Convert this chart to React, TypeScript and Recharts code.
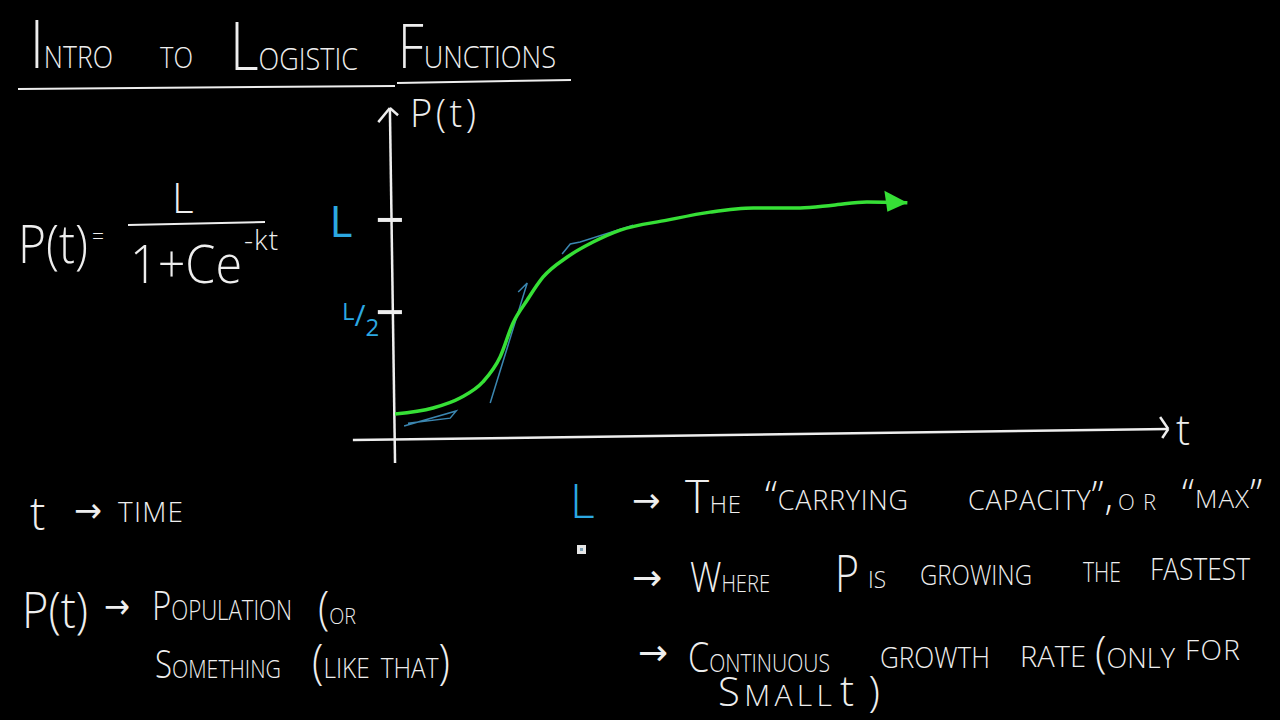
import { ComposedChart, Line, XAxis, YAxis, ReferenceLine } from 'recharts'

// green logistic curve (t in ~43px units, P with L = 100)
const curveT = [0, 0.88, 1.51, 2.04, 2.44, 2.74, 3.07, 3.44, 4.0, 4.6, 5.23, 6.32, 7.32, 8.32, 9.41, 10.17, 10.96, 11.9]
const curveP = [10.5, 13.3, 17.9, 25.3, 36.8, 52.5, 63.1, 73.7, 82.9, 89.8, 95.3, 99.9, 103.6, 105.5, 105.5, 106.8, 108.3, 107.9]

// faint blue tangent scribbles
const tan1T = [0.21, 1.42, 1.28, 0.3]
const tan1P = [5.0, 11.9, 8.6, 6.2]
const tan2T = [2.21, 3.07, 2.86]
const tan2P = [15.6, 70.9, 66.8]
const tan3T = [3.88, 4.07, 4.3, 5.53]
const tan3P = [84.3, 88.9, 89.8, 97.6]

// y ticks: L/2 and L
const yTicks = [57.5, 100]
const yTickLabels = ['L/2', 'L']

const INK = '#eeeeee'
const GREEN = '#36e036'
const BLUE = '#2ca8e2'
const FAINT = '#3b86b0'
const FONT = "'Open Sans', 'DejaVu Sans', sans-serif"

const toRows = (ts: number[], ps: number[]) => ts.map((t, i) => ({ t, p: ps[i] }))
const curve = toRows(curveT, curveP)
const tan1 = toRows(tan1T, tan1P)
const tan2 = toRows(tan2T, tan2P)
const tan3 = toRows(tan3T, tan3P)

const ctx = typeof document !== 'undefined' ? document.createElement('canvas').getContext('2d') : null

// handwritten "small caps": capitals big, lowercase as small capitals
function Hand({ x, y, w, text, big = 44, small = 27, fill = INK, raw = false, weight = 300 }: any) {
  const runs: { s: string; size: number }[] = []
  for (const ch of text) {
    const isSmall = !raw && ch >= 'a' && ch <= 'z'
    const size = isSmall ? small : big
    const c = isSmall ? ch.toUpperCase() : ch
    const last = runs[runs.length - 1]
    if (last && last.size === size) last.s += c
    else runs.push({ s: c, size })
  }
  let natural = 0
  if (ctx) {
    for (const r of runs) {
      ctx.font = `${weight} ${r.size}px ${FONT}`
      natural += ctx.measureText(r.s).width
    }
  }
  const adjust = natural > w ? 'spacingAndGlyphs' : 'spacing'
  return (
    <text x={x} y={y} textLength={w} lengthAdjust={adjust} fill={fill}
      fontFamily={FONT} fontWeight={weight}>
      {runs.map((r, i) => <tspan key={i} fontSize={r.size}>{r.s}</tspan>)}
    </text>
  )
}

function YTick({ x, y, payload }: any) {
  const label = yTickLabels[yTicks.indexOf(payload.value)]
  if (label === 'L') {
    return <text x={x - 11} y={y + 17} textAnchor="middle" fill={BLUE} fontSize={44} fontFamily={FONT} fontWeight={400}>L</text>
  }
  return (
    <text x={x - 10} y={y + 8} fill={BLUE} fontFamily={FONT} fontWeight={400}>
      <tspan fontSize={24}>L</tspan>
      <tspan fontSize={30} dy={6}>/</tspan>
      <tspan fontSize={24} dy={10}>2</tspan>
    </text>
  )
}

function ArrowDot(props: any) {
  const { cx, cy, index } = props
  if (index !== curve.length - 1) return <g key={`d${index}`} />
  return (
    <polygon key={`d${index}`} fill={GREEN}
      points={`${cx},${cy} ${cx - 23},${cy - 12} ${cx - 20},${cy + 9}`} />
  )
}

export default function App() {
  return (
    <div style={{ position: 'fixed', left: 0, top: 0, width: 1280, height: 720, background: '#000', overflow: 'hidden' }}>
      <ComposedChart width={1280} height={720} data={curve}
        margin={{ top: 105, left: 312, right: 110, bottom: 255 }}>
        <XAxis dataKey="t" type="number" domain={[-1, 18]} hide allowDataOverflow />
        <YAxis type="number" domain={[-13, 153]} width={40} ticks={yTicks}
          axisLine={false} tickLine={false} tickSize={0} tickMargin={0}
          tick={<YTick />} allowDataOverflow />

        {/* axes */}
        <ReferenceLine segment={[{ x: -0.98, y: -1.5 }, { x: 17.96, y: 3.6 }]} stroke={INK} strokeWidth={2.5} ifOverflow="visible" />
        <ReferenceLine segment={[{ x: 17.96, y: 3.6 }, { x: 17.77, y: 9.1 }]} stroke={INK} strokeWidth={2.5} ifOverflow="visible" />
        <ReferenceLine segment={[{ x: 17.96, y: 3.6 }, { x: 17.82, y: -0.55 }]} stroke={INK} strokeWidth={2.5} ifOverflow="visible" />
        <ReferenceLine segment={[{ x: 0, y: -12.1 }, { x: -0.12, y: 151.6 }]} stroke={INK} strokeWidth={2.5} ifOverflow="visible" />
        <ReferenceLine segment={[{ x: -0.12, y: 151.6 }, { x: -0.39, y: 145.1 }]} stroke={INK} strokeWidth={2.5} ifOverflow="visible" />
        <ReferenceLine segment={[{ x: -0.12, y: 151.6 }, { x: 0.07, y: 148.3 }]} stroke={INK} strokeWidth={2.5} ifOverflow="visible" />

        {/* tick marks at L/2 and L */}
        {yTicks.map(v => (
          <ReferenceLine key={v} segment={[{ x: -0.4, y: v }, { x: 0.16, y: v }]} stroke={INK} strokeWidth={4} ifOverflow="visible" />
        ))}

        <Line data={tan1} dataKey="p" type="linear" stroke={FAINT} strokeWidth={1.5} dot={false} isAnimationActive={false} />
        <Line data={tan2} dataKey="p" type="linear" stroke={FAINT} strokeWidth={1.5} dot={false} isAnimationActive={false} />
        <Line data={tan3} dataKey="p" type="linear" stroke={FAINT} strokeWidth={1.5} dot={false} isAnimationActive={false} />
        <Line dataKey="p" type="monotone" stroke={GREEN} strokeWidth={3.5} dot={ArrowDot} activeDot={false} isAnimationActive={false} />
      </ComposedChart>

      <svg width={1280} height={720} style={{ position: 'absolute', left: 0, top: 0, pointerEvents: 'none' }}>
        {/* title */}
        <Hand x={30} y={68} w={83} text="Intro" big={66} small={32} />
        <Hand x={160} y={68} w={33} text="to" small={30} />
        <Hand x={230} y={70} w={128} text="Logistic" big={66} small={32} />
        <Hand x={398} y={68} w={158} text="Functions" big={60} small={32} />
        <line x1={18} y1={89} x2={395} y2={86} stroke={INK} strokeWidth={2} />
        <line x1={397} y1={83} x2={571} y2={80} stroke={INK} strokeWidth={2} />

        {/* formula */}
        <Hand x={18} y={263} w={70} text="P(t)" big={54} raw />
        <Hand x={92} y={245} w={12} text="=" big={24} raw />
        <Hand x={172} y={213} w={28} text="L" big={42} raw />
        <line x1={128} y1={225} x2={265} y2={222} stroke={INK} strokeWidth={2} />
        <Hand x={130} y={283} w={112} text="1+Ce" big={54} raw />
        <Hand x={244} y={250} w={34} text="-kt" big={28} raw />

        {/* axis names */}
        <Hand x={410} y={127} w={66} text="P(t)" big={38} raw />
        <Hand x={1176} y={445} w={24} text="t" big={42} raw />

        {/* left notes */}
        <Hand x={30} y={530} w={22} text="t" big={46} raw />
        <Hand x={74} y={522} w={28} text="→" big={34} weight={400} raw />
        <Hand x={118} y={522} w={65} text="time" small={28} />
        <Hand x={22} y={628} w={66} text="P(t)" big={50} raw />
        <Hand x={104} y={618} w={26} text="→" big={34} weight={400} raw />
        <Hand x={152} y={620} w={140} text="Population" big={40} small={27} />
        <Hand x={318} y={624} w={38} text="(or" big={46} small={22} />
        <Hand x={155} y={678} w={126} text="Something" big={38} small={26} />
        <Hand x={312} y={678} w={138} text="(like that)" big={48} small={28} />

        {/* right notes */}
        <Hand x={570} y={518} w={30} text="L" big={48} fill={BLUE} raw />
        <Hand x={632} y={512} w={30} text="→" big={34} weight={400} raw />
        <Hand x={685} y={513} w={56} text="The" big={46} small={24} />
        <Hand x={765} y={510} w={143} text="“carrying" big={40} small={27} />
        <Hand x={968} y={510} w={145} text="capacity”," big={40} small={27} />
        <Hand x={1118} y={510} w={38} text="or" small={22} />
        <Hand x={1182} y={508} w={80} text="“max”" big={40} small={26} />
        <rect x={577} y={545} width={9} height={9} fill="#e6e6e6" />
        <rect x={580} y={548} width={3} height={3} fill="#7a9fb5" />
        <Hand x={632} y={590} w={33} text="→" big={36} weight={400} raw />
        <Hand x={690} y={592} w={80} text="Where" big={42} small={24} />
        <Hand x={835} y={592} w={24} text="P" big={52} raw />
        <Hand x={868} y={588} w={18} text="is" small={24} />
        <Hand x={920} y={585} w={112} text="growing" small={28} />
        <Hand x={1083} y={582} w={38} text="the" small={28} />
        <Hand x={1150} y={580} w={100} text="fastest" small={32} />
        <Hand x={638} y={665} w={30} text="→" big={36} weight={400} raw />
        <Hand x={688} y={672} w={142} text="Continuous" big={42} small={26} />
        <Hand x={880} y={668} w={110} text="growth" small={30} />
        <Hand x={1020} y={667} w={66} text="rate" small={30} />
        <Hand x={1095} y={668} w={80} text="(only" big={44} small={28} />
        <Hand x={1185} y={660} w={55} text="for" small={28} />
        <Hand x={718} y={706} w={114} text="Small" big={40} small={30} />
        <Hand x={840} y={706} w={40} text="t)" big={42} raw />
      </svg>
    </div>
  )
}
